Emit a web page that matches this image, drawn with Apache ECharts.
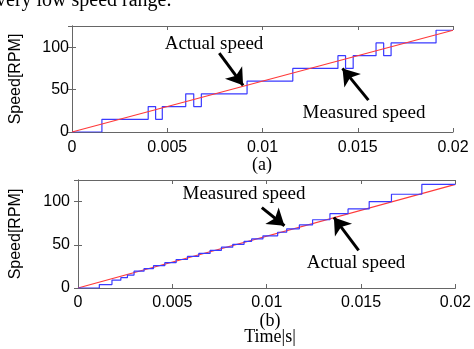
<!DOCTYPE html>
<html>
<head>
<meta charset="utf-8">
<script src="https://cdn.jsdelivr.net/npm/echarts@6/dist/echarts.min.js"></script>
<style>
  html, body { margin: 0; padding: 0; background: #fff; }
  #chart { width: 474px; height: 349px; }
</style>
</head>
<body>
<div id="chart"></div>
<script>
// (a) measured speed, steps (start time, level)
const measuredTimeA = [0, 0.00157, 0.0040, 0.00439, 0.00474, 0.00597, 0.00639, 0.00679, 0.00919, 0.01159, 0.01396, 0.01436, 0.01476, 0.01596, 0.01636, 0.01675, 0.01911, 0.02];
const measuredSpeedA = [0, 15, 30, 15, 30, 45, 30, 45, 60, 75, 90, 75, 90, 105, 90, 105, 120, 120];

// (b) measured speed
const measuredTimeB = [0, 0.00113, 0.0018, 0.00227, 0.00262, 0.00297, 0.0035, 0.0040, 0.0046, 0.0052, 0.0058, 0.0064, 0.0070, 0.0076, 0.0082, 0.0088, 0.0092, 0.0098, 0.01058, 0.01106, 0.01173, 0.01243, 0.01335, 0.01431, 0.01543, 0.01661, 0.01822, 0.02];
const measuredSpeedB = [0, 4, 9, 12, 15, 19.5, 22.5, 25.8, 29.3, 33, 36.5, 40, 43.6, 47.2, 50.5, 54, 56.8, 60.4, 64.5, 68.5, 73, 79, 86, 91.5, 100, 108.5, 120, 120];

// actual speed (ramp)
const actualTime = [0, 0.02];
const actualSpeed = [0, 120];

const xTicks = ['0', '0.005', '0.01', '0.015', '0.02'];

// arrows [tail, head] in data units
const arrowsA = [
  [[0.00773, 93], [0.00898, 55]],
  [[0.01556, 37.6], [0.0142, 75]]
];
const arrowsB = [
  [[0.00974, 93], [0.01094, 72]],
  [[0.01487, 43.5], [0.01356, 81.7]]
];

const zip = (xs, ys) => xs.map((x, i) => [x, ys[i]]);

var chart = echarts.init(document.getElementById('chart'));

const sans = 'Liberation Sans';
const axisColor = '#666';

function xAx(grid, pos, labelMargin) {
  return {
    type: 'value', gridIndex: grid, position: pos,
    min: 0, max: 0.02, interval: 0.005,
    axisLine: { show: true, onZero: false, lineStyle: { color: axisColor, width: 1 } },
    axisTick: { show: true, inside: true, length: 4, lineStyle: { color: axisColor } },
    axisLabel: {
      show: pos === 'bottom', margin: labelMargin, color: '#000', fontFamily: sans, fontSize: 16,
      formatter: v => xTicks[Math.round(v / 0.005)]
    },
    splitLine: { show: false }
  };
}

function yAx(grid, pos, labelMargin, nameGap) {
  return {
    type: 'value', gridIndex: grid, position: pos,
    min: 0, max: 125, interval: 50,
    name: pos === 'left' ? 'Speed[RPM]' : '',
    nameLocation: 'middle', nameGap: nameGap,
    nameTextStyle: { color: '#000', fontFamily: sans, fontSize: 16 },
    axisLine: { show: true, lineStyle: { color: axisColor, width: 1 } },
    axisTick: { show: true, inside: true, length: 4, lineStyle: { color: axisColor } },
    axisLabel: {
      show: pos === 'left', margin: labelMargin, color: '#000', fontFamily: sans, fontSize: 16,
      showMaxLabel: false
    },
    splitLine: { show: false }
  };
}

function arrowLines(list) {
  return {
    silent: true,
    symbol: ['none', 'arrow'],
    symbolSize: 16,
    label: { show: false },
    lineStyle: { color: '#000', width: 3, type: 'solid' },
    itemStyle: { color: '#000' },
    data: list.map(a => [{ coord: a[0] }, { coord: a[1] }])
  };
}

var option = {
  animation: false,
  backgroundColor: '#fff',
  grid: [
    { left: 70, right: 21, top: 26, height: 106 },
    { left: 76, right: 16, top: 180, height: 108 }
  ],
  xAxis: [xAx(0, 'bottom', 8), xAx(0, 'top', 8), xAx(1, 'bottom', 7), xAx(1, 'top', 7)],
  yAxis: [yAx(0, 'left', 3, 48), yAx(0, 'right', 3, 0), yAx(1, 'left', 8, 54), yAx(1, 'right', 8, 0)],
  series: [
    {
      name: 'Measured speed', type: 'line', step: 'end', xAxisIndex: 0, yAxisIndex: 0,
      data: zip(measuredTimeA, measuredSpeedA), showSymbol: false,
      lineStyle: { color: '#3a3aff', width: 1.2 }
    },
    {
      name: 'Actual speed', type: 'line', xAxisIndex: 0, yAxisIndex: 0,
      data: zip(actualTime, actualSpeed), showSymbol: false,
      lineStyle: { color: '#ff3a3a', width: 1.2 },
      markLine: arrowLines(arrowsA)
    },
    {
      name: 'Actual speed', type: 'line', xAxisIndex: 2, yAxisIndex: 2,
      data: zip(actualTime, actualSpeed), showSymbol: false,
      lineStyle: { color: '#ff3a3a', width: 1.2 },
      markLine: arrowLines(arrowsB)
    },
    {
      name: 'Measured speed', type: 'line', step: 'end', xAxisIndex: 2, yAxisIndex: 2,
      data: zip(measuredTimeB, measuredSpeedB), showSymbol: false,
      lineStyle: { color: '#3a3aff', width: 1.2 }
    }
  ],
  graphic: [
    { type: 'text', left: -4, top: -9, style: { text: 'very low speed range.', font: '20px "Liberation Serif"', fill: '#000' } },
    { type: 'text', x: 214, y: 44, style: { text: 'Actual speed', font: '19px "Liberation Serif"', fill: '#000', align: 'center', verticalAlign: 'middle' } },
    { type: 'text', x: 364, y: 113, style: { text: 'Measured speed', font: '19px "Liberation Serif"', fill: '#000', align: 'center', verticalAlign: 'middle' } },
    { type: 'text', x: 262, y: 165, style: { text: '(a)', font: '18px "Liberation Serif"', fill: '#000', align: 'center', verticalAlign: 'middle' } },
    { type: 'text', x: 244, y: 194, style: { text: 'Measured speed', font: '19px "Liberation Serif"', fill: '#000', align: 'center', verticalAlign: 'middle' } },
    { type: 'text', x: 356, y: 263, style: { text: 'Actual speed', font: '19px "Liberation Serif"', fill: '#000', align: 'center', verticalAlign: 'middle' } },
    { type: 'text', x: 270, y: 321, style: { text: '(b)', font: '18px "Liberation Serif"', fill: '#000', align: 'center', verticalAlign: 'middle' } },
    { type: 'text', x: 270, y: 337, style: { text: 'Time|s|', font: '18px "Liberation Serif"', fill: '#000', align: 'center', verticalAlign: 'middle' } }
  ]
};

chart.setOption(option);
</script>
</body>
</html>
